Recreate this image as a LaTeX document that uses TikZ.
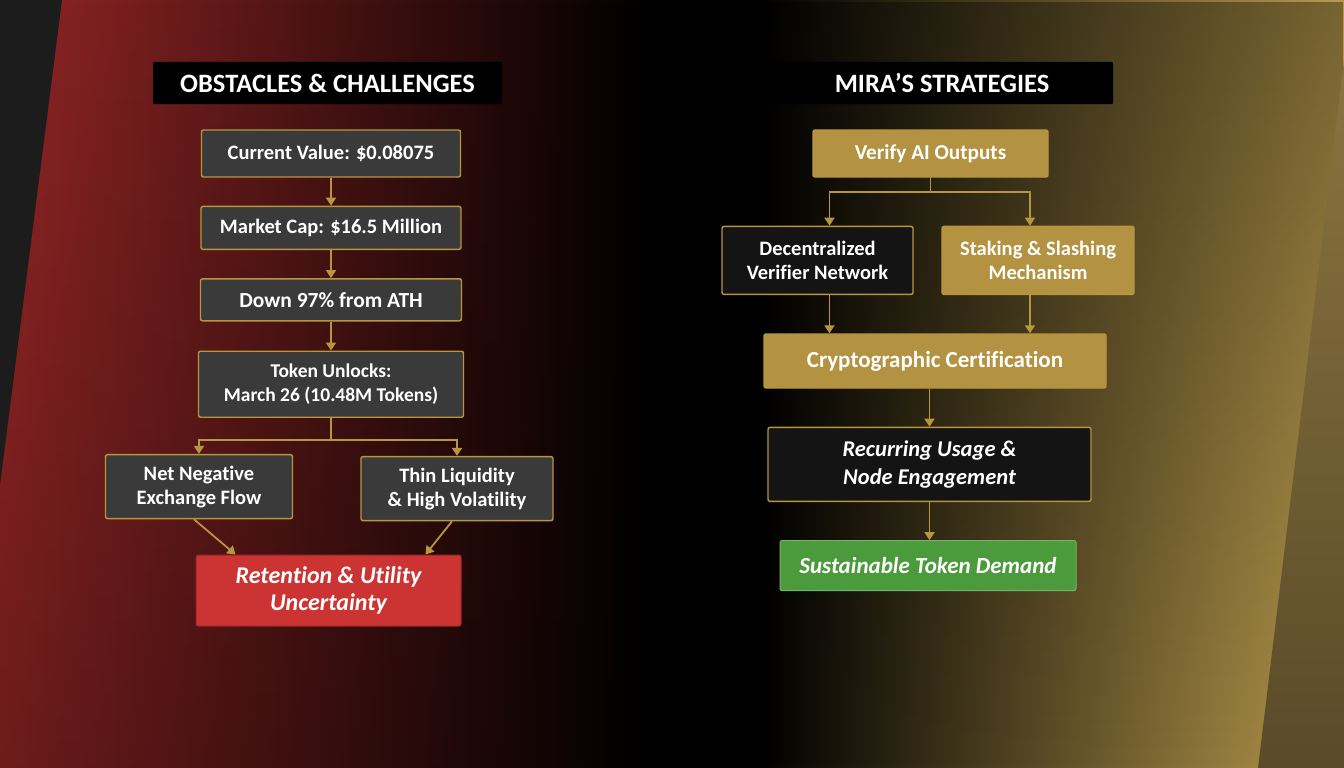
\documentclass[tikz,border=0pt]{standalone}
\usepackage{fontspec}
\setmainfont{Carlito}[Ligatures=NoCommon]
\usepackage{tikz}
\usetikzlibrary{arrows.meta, positioning, fadings}
\definecolor{goldline}{HTML}{B8963E}
\definecolor{goldfill}{HTML}{B39342}
\definecolor{greyfill}{HTML}{3A3A3A}
\definecolor{nightfill}{HTML}{141414}
\definecolor{alertred}{HTML}{CC3333}
\definecolor{okgreen}{HTML}{4B9A3B}
\definecolor{bgred}{HTML}{922525}
\definecolor{bggold}{HTML}{B89A4C}
\definecolor{bgslate}{HTML}{1C1C1C}
\definecolor{paneltop}{HTML}{8A7440}
\definecolor{panelbottom}{HTML}{5A4A28}

\begin{document}
\begin{tikzpicture}[
    x=1pt, y=-1pt,
    node distance=28pt,
    box/.style={rectangle, draw=goldline, line width=1.4pt, rounded corners=2pt, align=center, text=white, inner sep=0pt, font=\fontsize{20.5}{24}\selectfont\bfseries},
    greybox/.style={box, fill=greyfill},
    nightbox/.style={box, fill=nightfill},
    goldbox/.style={box, fill=goldfill},
    redbox/.style={box, draw=alertred!75!black, line width=1pt, fill=alertred, font=\fontsize{24}{27}\selectfont\bfseries\itshape},
    greenbox/.style={box, draw=okgreen!75!white, line width=1pt, fill=okgreen, font=\fontsize{23}{25}\selectfont\bfseries\itshape},
    heading/.style={rectangle, fill=black, rounded corners=1pt, text=white, minimum height=42pt, font=\fontsize{26.5}{28}\selectfont\bfseries},
    arrow/.style={-{Triangle[length=8pt, width=10pt]}, goldline, line width=1.8pt},
]
\useasboundingbox (0,0) rectangle (1344,768);

% Background
\fill[black] (0,0) rectangle (1344,768);
\shade[left color=bgred, right color=black] (0,0) rectangle (650,768);
\fill[black, path fading=north, fill opacity=0.25] (0,0) rectangle (650,768);
\shade[left color=black, right color=bggold] (760,0) rectangle (1344,768);
\fill[black, path fading=south, fill opacity=0.35] (760,0) rectangle (1344,768);
\fill[bgslate] (0,0) -- (62,0) -- (0,485) -- cycle;
\shade[top color=paneltop, bottom color=panelbottom] (1344,60) -- (1344,768) -- (1258,768) -- cycle;

% Obstacles
\node[heading, minimum width=349pt] (obst) at (327.5,83) {OBSTACLES \& CHALLENGES};
\node[greybox, minimum width=259pt, minimum height=47pt] (cv) at (331,153.5) {Current Value: \$0.08075};
\node[greybox, minimum width=260pt, minimum height=43pt, below=28pt of cv] (mc) {Market Cap: \$16.5 Million};
\node[greybox, font=\fontsize{21.5}{24}\selectfont\bfseries, minimum width=261pt, minimum height=42pt, below=28pt of mc] (dn) {Down 97\% from ATH};
\node[greybox, font=\fontsize{19.5}{24}\selectfont\bfseries, minimum width=265pt, minimum height=66pt, below=29pt of dn] (tu) {Token Unlocks:\\March 26 (10.48M Tokens)};
\node[greybox, minimum width=187pt, minimum height=64pt, below=36pt of tu, xshift=-132pt] (nn) {Net Negative\\Exchange Flow};
\node[greybox, minimum width=192pt, minimum height=64pt, below=38pt of tu, xshift=126pt] (tl) {Thin Liquidity\\\& High Volatility};
\node[redbox, minimum width=265pt, minimum height=71pt] (ru) at (328.5,590.5) {Retention \& Utility\\Uncertainty};

% Strategies
\node[heading, minimum width=342pt] (mira) at (942,83) {MIRA’S STRATEGIES};
\node[goldbox, font=\fontsize{21.2}{24}\selectfont\bfseries, minimum width=235pt, minimum height=47pt] (va) at (930.5,153.5) {Verify AI Outputs};
\node[nightbox, minimum width=191pt, minimum height=68pt, below=48pt of va, xshift=-113pt] (dv) {Decentralized\\Verifier Network};
\node[goldbox, minimum width=192pt, minimum height=68pt, below=48pt of va, xshift=107.5pt] (ss) {Staking \& Slashing\\Mechanism};
\node[goldbox, font=\fontsize{23}{24}\selectfont\bfseries, minimum width=342pt, minimum height=54pt] (cc) at (935,361) {Cryptographic Certification};
\node[nightbox, font=\fontsize{22.5}{28}\selectfont\bfseries\itshape, minimum width=323pt, minimum height=74pt, below=38pt of cc, xshift=-5.5pt] (rn) {Recurring Usage \&\\Node Engagement};
\node[greenbox, minimum width=296pt, minimum height=50pt, below=38pt of rn, xshift=-1.5pt] (st) {Sustainable Token Demand};

% Arrows: obstacles
\draw[arrow] (cv) -- (mc);
\draw[arrow] (mc) -- (dn);
\draw[arrow] (dn) -- (tu);
\draw[arrow] (tu.south) -- ++(0,22) -| (nn.north);
\draw[arrow] (tu.south) -- ++(0,22) -| (tl.north);
\draw[arrow] ([xshift=-5pt]nn.south) -- ([xshift=-93pt]ru.north);
\draw[arrow] ([xshift=-5pt]tl.south) -- ([xshift=97pt]ru.north);

% Arrows: strategies
\draw[arrow] (va.south) -- ++(0,14) -| ([xshift=12pt]dv.north);
\draw[arrow] (va.south) -- ++(0,14) -| ([xshift=-8pt]ss.north);
\draw[arrow] ([xshift=12pt]dv.south) -- ([xshift=12pt]dv.south |- cc.north);
\draw[arrow] ([xshift=-8pt]ss.south) -- ([xshift=-8pt]ss.south |- cc.north);
\draw[arrow] (rn.north |- cc.south) -- (rn.north);
\draw[arrow] (rn.south) -- (rn.south |- st.north);

\end{tikzpicture}
\end{document}
